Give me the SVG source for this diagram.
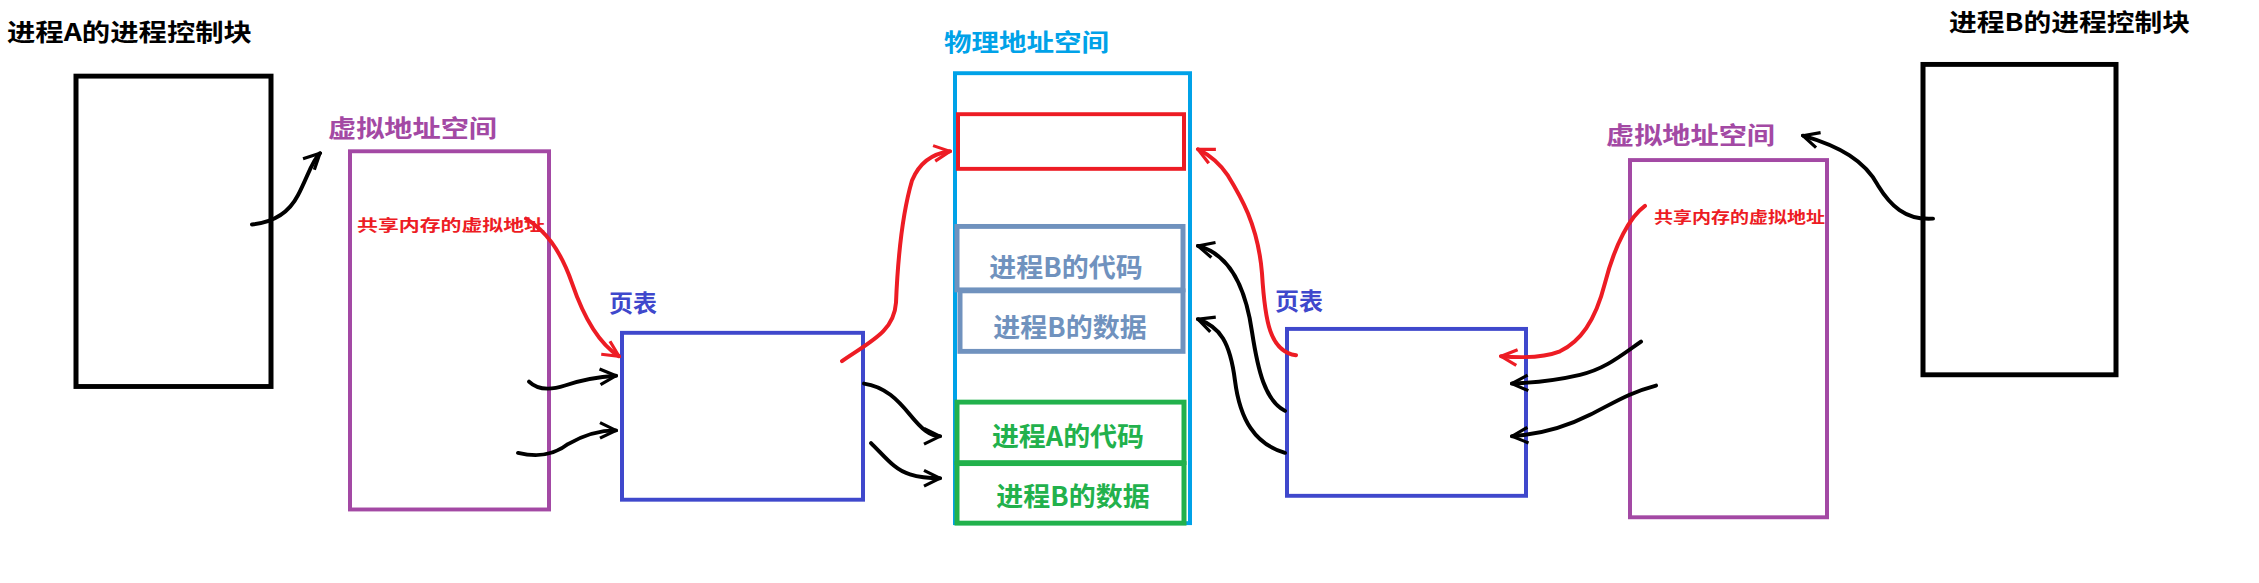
<svg xmlns="http://www.w3.org/2000/svg" width="2259" height="583" viewBox="0 0 2259 583">
<style>
text{font-family:"Noto Sans CJK SC","Liberation Sans",sans-serif;font-weight:bold}
.t{font-size:24px;fill:#000}
.v{font-size:24px;fill:#a349a4}
.s{font-size:16px;fill:#ed1c24}
.p{font-size:24px;fill:#3f48cc}
.m{font-size:24px;fill:#00a2e8}
.gb{font-size:27px;fill:#7092be}
.gg{font-size:27px;fill:#22b14c}
rect{fill:none}
.bk{stroke:#000;stroke-width:5}
.pu{stroke:#a349a4;stroke-width:4}
.bl{stroke:#3f48cc;stroke-width:4}
.cy{stroke:#00a2e8;stroke-width:4}
.rd{stroke:#ed1c24;stroke-width:4}
.bg{stroke:#7092be;stroke-width:5}
.gr{stroke:#22b14c;stroke-width:5}
.c{fill:none;stroke-width:4;stroke-linecap:round;stroke-linejoin:round}
.ck{stroke:#000;marker-end:url(#ak)}
.cr{stroke:#ed1c24;marker-end:url(#ar)}
</style>
<defs>
<marker id="ak" viewBox="0 0 10 10" refX="9" refY="5" markerWidth="5" markerHeight="5" orient="auto" markerUnits="strokeWidth"><path d="M1,1 L9,5 L1,9" fill="none" stroke="#000" stroke-width="1.6"/></marker>
<marker id="ar" viewBox="0 0 10 10" refX="9" refY="5" markerWidth="5" markerHeight="5" orient="auto" markerUnits="strokeWidth"><path d="M1,1 L9,5 L1,9" fill="none" stroke="#ed1c24" stroke-width="1.6"/></marker>
</defs>
<g transform="scale(1,0.976)">
<g id="pcbA"><text class="t" x="7" y="42" textLength="245" lengthAdjust="spacingAndGlyphs">进程A的进程控制块</text><rect class="bk" x="76" y="78" width="195" height="318"/></g>
<g id="vasA"><text class="v" x="328" y="140" textLength="169" lengthAdjust="spacingAndGlyphs">虚拟地址空间</text><rect class="pu" x="350" y="155" width="199" height="367"/><text class="s" x="357" y="237" textLength="188" lengthAdjust="spacingAndGlyphs">共享内存的虚拟地址</text></g>
<g id="ptA"><text class="p" x="609" y="320">页表</text><rect class="bl" x="622" y="341" width="241" height="171"/></g>
<g id="phys"><text class="m" x="944" y="52" textLength="165" lengthAdjust="spacingAndGlyphs">物理地址空间</text><rect class="cy" x="955" y="75" width="235" height="461"/>
<rect class="rd" x="958" y="117" width="226" height="56"/>
<rect class="bg" x="957" y="232" width="226" height="65"/><text class="gb" x="1066" y="284" text-anchor="middle">进程B的代码</text>
<rect class="bg" x="960" y="298" width="223" height="62"/><text class="gb" x="1070" y="345" text-anchor="middle">进程B的数据</text>
<rect class="gr" x="957" y="412" width="227" height="62"/><text class="gg" x="1068" y="457" text-anchor="middle">进程A的代码</text>
<rect class="gr" x="957" y="475" width="227" height="61"/><text class="gg" x="1073" y="518" text-anchor="middle">进程B的数据</text></g>
<g id="ptB"><text class="p" x="1275" y="318">页表</text><rect class="bl" x="1287" y="337" width="239" height="171"/></g>
<g id="vasB"><text class="v" x="1606" y="148" textLength="169" lengthAdjust="spacingAndGlyphs">虚拟地址空间</text><rect class="pu" x="1630" y="164" width="197" height="366"/><text class="s" x="1654" y="228" textLength="171" lengthAdjust="spacingAndGlyphs">共享内存的虚拟地址</text></g>
<g id="pcbB"><text class="t" x="1949" y="32" textLength="241" lengthAdjust="spacingAndGlyphs">进程B的进程控制块</text><rect class="bk" x="1923" y="66" width="193" height="318"/></g>
<g id="connectors">
<path class="c ck" d="M252,230 C272,228 288,220 298,200 C308,180 312,165 320,157"/>
<path class="c cr" d="M526,224 C545,236 560,255 572,290 C582,320 596,350 619,365"/>
<path class="c ck" d="M529,391 C538,400 550,400 565,395 C585,388 600,386 616,385"/>
<path class="c ck" d="M518,464 C535,468 552,468 568,455 C585,445 600,441 616,441"/>
<path class="c cr" d="M842,370 C870,350 894,340 896,310 C898,260 902,220 912,185 C920,165 935,157 950,155"/>
<path class="c ck" d="M864,393 C885,396 898,410 910,425 C922,440 930,447 940,447"/>
<path class="c ck" d="M871,454 C885,468 895,482 910,486 C922,490 932,490 940,490"/>
<path class="c cr" d="M1296,364 C1270,360 1265,330 1262,280 C1258,230 1240,200 1228,180 C1218,165 1208,158 1198,153"/>
<path class="c ck" d="M1285,421 C1265,410 1258,380 1252,340 C1245,290 1228,260 1198,252"/>
<path class="c ck" d="M1285,464 C1255,455 1240,430 1235,390 C1230,350 1220,335 1198,327"/>
<path class="c cr" d="M1645,211 C1630,222 1615,250 1605,290 C1595,330 1580,350 1560,360 C1545,366 1525,367 1501,365"/>
<path class="c ck" d="M1641,350 C1620,365 1605,378 1580,384 C1555,390 1535,392 1512,393"/>
<path class="c ck" d="M1656,395 C1630,402 1615,412 1590,425 C1565,438 1540,445 1512,447"/>
<path class="c ck" d="M1933,224 C1905,226 1890,210 1878,190 C1865,165 1840,150 1803,139"/>
</g>
</g>
</svg>
